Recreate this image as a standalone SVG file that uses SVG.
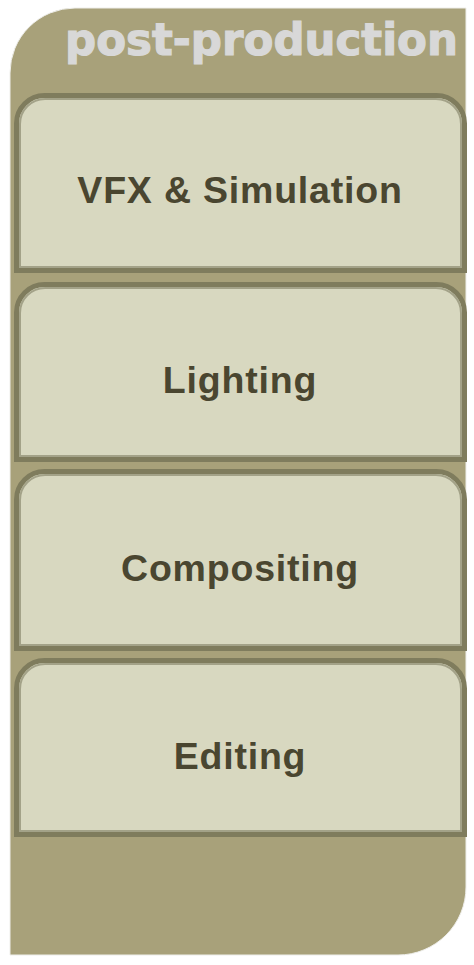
<svg xmlns="http://www.w3.org/2000/svg" width="474" height="965" viewBox="0 0 474 965">
<style>
.box{fill:#d8d8c0;stroke:#7f7c5d;stroke-width:5}
.inner{fill:none;stroke:#a3a288;stroke-width:2}
.lbl{font-family:"Liberation Sans",Arial,sans-serif;font-weight:bold;font-size:37.5px;fill:#4a4630;text-anchor:middle;letter-spacing:0.8px}
.title{font-family:"DejaVu Sans",Verdana,sans-serif;font-weight:bold;font-size:45px;fill:#d8d8d8;stroke:#d8d8d8;stroke-width:1.2}
</style>
<rect width="474" height="965" fill="#ffffff"/>
<g id="panel">
<path d="M10,955 V73 A65,65 0 0 1 75,8 H466 V887 A68,68 0 0 1 398,955 Z" fill="#a8a17a" stroke="#eeeeea" stroke-width="1"/>
<text class="title" x="65" y="55" textLength="393" lengthAdjust="spacingAndGlyphs">post-production</text>
</g>
<g id="vfx">
<path class="box" d="M16.5,270.5 V123.5 A28,28 0 0 1 44.5,95.5 H436.5 A28,28 0 0 1 464.5,123.5 V270.5 Z"/>
<path class="inner" d="M20,267 V124 A25,25 0 0 1 45,99 H436 A25,25 0 0 1 461,124 V267 Z"/>
<text class="lbl" x="240" y="203">VFX &amp; Simulation</text>
</g>
<g id="lighting">
<path class="box" d="M16.5,459.5 V312.5 A28,28 0 0 1 44.5,284.5 H436.5 A28,28 0 0 1 464.5,312.5 V459.5 Z"/>
<path class="inner" d="M20,456 V313 A25,25 0 0 1 45,288 H436 A25,25 0 0 1 461,313 V456 Z"/>
<text class="lbl" x="240" y="393">Lighting</text>
</g>
<g id="compositing">
<path class="box" d="M16.5,648.5 V499.5 A28,28 0 0 1 44.5,471.5 H436.5 A28,28 0 0 1 464.5,499.5 V648.5 Z"/>
<path class="inner" d="M20,645 V500 A25,25 0 0 1 45,475 H436 A25,25 0 0 1 461,500 V645 Z"/>
<text class="lbl" x="240" y="581">Compositing</text>
</g>
<g id="editing">
<path class="box" d="M16.5,834.5 V688.5 A28,28 0 0 1 44.5,660.5 H436.5 A28,28 0 0 1 464.5,688.5 V834.5 Z"/>
<path class="inner" d="M20,831 V689 A25,25 0 0 1 45,664 H436 A25,25 0 0 1 461,689 V831 Z"/>
<text class="lbl" x="240" y="769">Editing</text>
</g>
<g id="connectors"></g>
</svg>
